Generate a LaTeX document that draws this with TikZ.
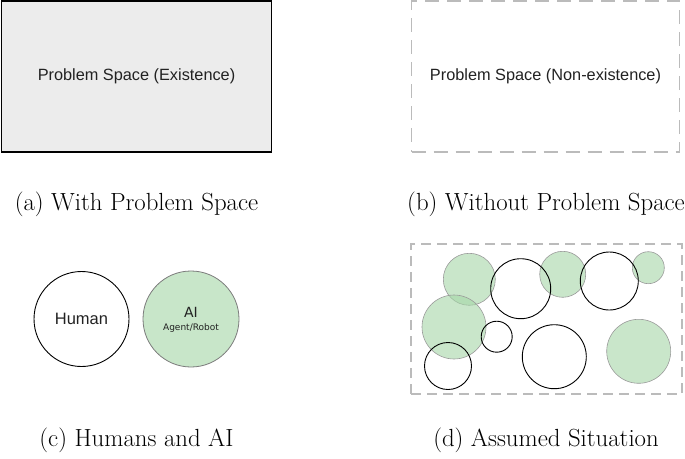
\documentclass[tikz,border=0pt]{standalone}
\usepackage{fontspec}
\newfontfamily\panelfont{Liberation Sans}
\newfontfamily\aifont{DejaVu Sans}
\definecolor{boxgray}{HTML}{ECECEC}
\definecolor{dashgray}{HTML}{BBBBBB}
\definecolor{agreen}{HTML}{C8E6C9}
\definecolor{tgreen}{HTML}{A5D6A7}
\definecolor{edgegray}{HTML}{9A9A9A}
\definecolor{textgray}{HTML}{222222}
\begin{document}
\begin{tikzpicture}[x=1pt,y=-1pt,
  caption/.style={font=\fontsize{24.8}{28}\selectfont, inner sep=0pt},
  paneltext/.style={font=\panelfont\fontsize{16.3}{19}\selectfont, text=textgray, inner sep=0pt},
  dashbox/.style={draw=dashgray, line width=1.8pt, dash pattern=on 14pt off 8pt},
  dashbox2/.style={draw=dashgray, line width=1.6pt, dash pattern=on 10pt off 6pt},
  hcirc/.style={draw=black, line width=0.9pt},
  gcirc/.style={draw=edgegray, line width=0.6pt, fill=tgreen, fill opacity=0.6}]
\useasboundingbox (0,0) rectangle (685,458);
% (a)
\node[draw=black, line width=1.8pt, fill=boxgray, minimum width=270pt, minimum height=151pt, inner sep=0pt] (boxa) at (136.5,76.5) {};
\node[paneltext] (ta) at (boxa.center) {Problem Space (Existence)};
\node[caption] (capa) at (136.5,204) {(a) With Problem Space};
% (b)
\node[dashbox, minimum width=268pt, minimum height=151pt, inner sep=0pt] (boxb) at (545.5,76.5) {};
\node[paneltext] (tb) at (boxb.center) {Problem Space (Non-existence)};
\node[caption] (capb) at (546,204) {(b) Without Problem Space};
% (c)
\node[hcirc, circle, minimum size=95pt, inner sep=0pt] (human) at (81.5,319) {};
\node[font=\panelfont\fontsize{16.5}{19}\selectfont, text=textgray, inner sep=0pt] (thuman) at (human.center) {Human};
\node[circle, draw=edgegray!80!black, line width=0.8pt, fill=agreen, minimum size=96pt, inner sep=0pt] (ai) at (191,319) {};
\node[font=\aifont\fontsize{14}{17}\selectfont, text=textgray, inner sep=0pt] (tai) at (191,312.5) {AI};
\node[font=\aifont\fontsize{9}{11}\selectfont, text=textgray, inner sep=0pt] (tagent) at (191,328) {Agent/Robot};
\node[caption] (capc) at (136.5,440) {(c) Humans and AI};
% (d)
\node[dashbox2, minimum width=271pt, minimum height=150pt, inner sep=0pt] (boxd) at (546.5,319) {};
\node[gcirc, circle, minimum size=52pt, inner sep=0pt] (g1) at (469.3,279.3) {};
\node[gcirc, circle, minimum size=46pt, inner sep=0pt] (g3) at (562.7,274.3) {};
\node[gcirc, circle, minimum size=32pt, inner sep=0pt] (g5) at (648.3,267.7) {};
\node[gcirc, circle, minimum size=64pt, inner sep=0pt] (g6) at (454,327) {};
\node[gcirc, circle, minimum size=64pt, inner sep=0pt] (g10) at (638.7,351.3) {};
\node[hcirc, circle, minimum size=60pt, inner sep=0pt] (w2) at (520.7,288.7) {};
\node[hcirc, circle, minimum size=58pt, inner sep=0pt] (w4) at (609.3,281) {};
\node[hcirc, circle, minimum size=31pt, inner sep=0pt] (w7) at (496.7,336.7) {};
\node[hcirc, circle, minimum size=47pt, inner sep=0pt] (w8) at (448,366) {};
\node[hcirc, circle, minimum size=64pt, inner sep=0pt] (w9) at (554.3,356.7) {};
\node[caption] (capd) at (546,440) {(d) Assumed Situation};
\end{tikzpicture}
\end{document}
